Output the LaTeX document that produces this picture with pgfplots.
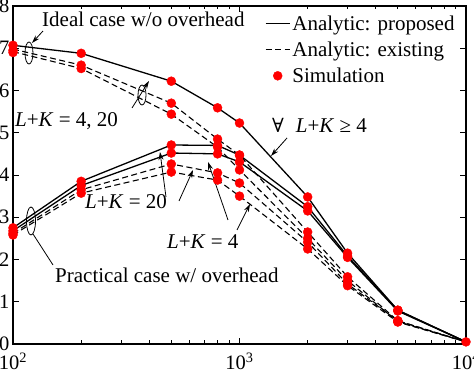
\documentclass[border=0pt]{standalone}
\usepackage{fontspec}
\setmainfont{Liberation Serif}
\newfontfamily\dejavu{DejaVu Serif}
\usepackage{pgfplots}
\pgfplotsset{compat=1.18}
\usetikzlibrary{arrows.meta}
\pgfplotsset{
  linelegend/.style={legend image code/.code={\draw[##1](0pt,0pt)--(24pt,0pt);}},
  simlegend/.style={legend image code/.code={\draw[mark repeat=2,mark phase=2,##1] plot coordinates {(0pt,0pt)(12pt,0pt)(24pt,0pt)};}},
}
\newcommand\annf{\fontsize{21}{24}\selectfont}
\newcommand\legf{\fontsize{21}{24}\selectfont}
\newcommand\tickf{\fontsize{20.5}{23}\selectfont}
\begin{document}
\begin{tikzpicture}
\begin{axis}[
  name=ax,
  scale only axis, width=453pt, height=338pt,
  xmode=log, xmin=100, xmax=10000, ymin=0, ymax=8,
  xtick={100,1000,10000},
  xticklabels={10\textsuperscript{2},10\textsuperscript{3},10\textsuperscript{4}},
  ytick={0,1,2,3,4,5,6,7,8},
  yticklabels={0,1,2,3,4,5,6,7,8},
  tick align=inside,
  major tick length=6pt, minor tick length=3.5pt,
  every tick/.style={black, line width=0.8pt},
  axis line style={line width=1.2pt},
  tick label style={font=\tickf},
  xticklabel style={yshift=-5pt},
  clip=false,
  legend style={at={(rel axis cs:0.556,0.978)}, anchor=north west, draw=none, fill=none,
    font=\legf, nodes={font=\legf}, inner sep=0pt, row sep=6pt},
  legend cell align=left,
  solidline/.style={black, line width=1.3pt, linelegend},
  dashline/.style={black, line width=1.1pt, dash pattern=on 6pt off 3.5pt, linelegend},
  sim/.style={only marks, mark=*, mark size=4.5pt, color=red, mark options={fill=red, draw=red}, simlegend},
]
% Ideal case, proposed
\addplot[solidline] coordinates {(100,7.07)(200,6.88)(500,6.22)(800,5.59)(1000,5.23)(2000,3.48)(3000,2.15)(5000,0.80)(10000,0.05)};
\addlegendentry{Analytic: proposed}
% Ideal case, existing (L+K=4)
\addplot[dashline] coordinates {(100,6.98)(200,6.60)(500,5.70)(800,4.85)(1000,4.47)(2000,2.65)(3000,1.59)(5000,0.55)(10000,0.05)};
\addlegendentry{Analytic: existing}
% Ideal case, existing (L+K=20)
\addplot[dashline, forget plot] coordinates {(100,6.92)(200,6.52)(500,5.44)(800,4.66)(1000,4.12)(2000,2.50)(3000,1.50)(5000,0.53)(10000,0.05)};
% Practical case, proposed
\addplot[solidline, forget plot] coordinates {(100,2.75)(200,3.85)(500,4.71)(800,4.70)(1000,4.47)(2000,3.25)(3000,2.08)(5000,0.80)(10000,0.05)};
\addplot[solidline, forget plot] coordinates {(100,2.68)(200,3.75)(500,4.52)(800,4.50)(1000,4.31)(2000,3.15)(3000,2.05)(5000,0.78)(10000,0.05)};
% Practical case, existing
\addplot[dashline, forget plot] coordinates {(100,2.62)(200,3.65)(500,4.26)(800,4.05)(1000,3.81)(2000,2.41)(3000,1.42)(5000,0.55)(10000,0.05)};
\addplot[dashline, forget plot] coordinates {(100,2.58)(200,3.57)(500,4.07)(800,3.88)(1000,3.50)(2000,2.25)(3000,1.38)(5000,0.52)(10000,0.05)};
% Simulation
\addplot[sim] coordinates {(100,7.07)(200,6.88)(500,6.22)(800,5.59)(1000,5.23)(2000,3.48)(3000,2.15)(5000,0.80)(10000,0.05)};
\addlegendentry{Simulation}
\addplot[sim, forget plot] coordinates {(100,6.95)(200,6.60)(500,5.70)(800,4.85)(1000,4.47)(2000,2.65)(3000,1.59)(5000,0.55)};
\addplot[sim, forget plot] coordinates {(100,6.90)(200,6.52)(500,5.44)(800,4.66)(1000,4.12)(2000,2.50)(3000,1.50)(5000,0.53)};
\addplot[sim, forget plot] coordinates {(100,2.75)(200,3.85)(500,4.71)(800,4.70)(1000,4.47)(2000,3.25)(3000,2.08)(5000,0.80)};
\addplot[sim, forget plot] coordinates {(100,2.68)(200,3.75)(500,4.52)(800,4.50)(1000,4.31)(2000,3.15)(3000,2.05)(5000,0.78)};
\addplot[sim, forget plot] coordinates {(100,2.62)(200,3.65)(500,4.26)(800,4.05)(1000,3.81)(2000,2.41)(3000,1.42)(5000,0.55)};
\addplot[sim, forget plot] coordinates {(100,2.58)(200,3.57)(500,4.07)(800,3.88)(1000,3.50)(2000,2.25)(3000,1.38)(5000,0.52)};

% Annotations
\node[anchor=base west, inner sep=0pt, font=\annf] at (rel axis cs:0.0640,0.9379) {Ideal case w/o overhead};
\draw[line width=0.8pt] (rel axis cs:0.0353,0.8609) ellipse [x radius=4pt, y radius=11pt];
\draw[line width=0.8pt, -{Stealth[length=8pt,width=5pt]}] (rel axis cs:0.0662,0.9260) -- (rel axis cs:0.0419,0.8905);

\node[anchor=base west, inner sep=0pt, font=\annf] at (rel axis cs:0.0044,0.6420) {\textit{L}+\textit{K} = 4, 20};
\draw[line width=0.8pt] (rel axis cs:0.2848,0.7367) ellipse [x radius=4pt, y radius=10pt];
\draw[line width=0.8pt, -{Stealth[length=8pt,width=5pt]}] (rel axis cs:0.2627,0.6982) -- (rel axis cs:0.3002,0.7781);

\node[anchor=base west, inner sep=0pt, font=\annf] at (rel axis cs:0.5717,0.6272) {{\dejavu\fontsize{19.5}{22}\selectfont ∀}\hspace{12pt}\textit{L}+\textit{K} ≥ 4};
\draw[line width=0.8pt, -{Stealth[length=8pt,width=5pt]}] (rel axis cs:0.6049,0.6095) -- (rel axis cs:0.5695,0.5562);

\node[anchor=base west, inner sep=0pt, font=\annf] at (rel axis cs:0.1589,0.3994) {\textit{L}+\textit{K} = 20};
\draw[line width=0.8pt, -{Stealth[length=8pt,width=5pt]}] (rel axis cs:0.3377,0.4349) -- (rel axis cs:0.3245,0.5680);
\draw[line width=0.8pt, -{Stealth[length=8pt,width=5pt]}] (rel axis cs:0.3664,0.4231) -- (rel axis cs:0.3974,0.5148);

\node[anchor=base west, inner sep=0pt, font=\annf] at (rel axis cs:0.3400,0.2840) {\textit{L}+\textit{K} = 4};
\draw[line width=0.8pt, -{Stealth[length=8pt,width=5pt]}] (rel axis cs:0.4746,0.3669) -- (rel axis cs:0.4305,0.5385);
\draw[line width=0.8pt, -{Stealth[length=8pt,width=5pt]}] (rel axis cs:0.4945,0.3373) -- (rel axis cs:0.5232,0.4142);

\node[anchor=base west, inner sep=0pt, font=\annf] at (rel axis cs:0.0927,0.1805) {Practical case w/ overhead};
\draw[line width=0.8pt] (rel axis cs:0.0397,0.3639) ellipse [x radius=4.5pt, y radius=14pt];
\draw[line width=0.8pt] (rel axis cs:0.0883,0.2337) -- (rel axis cs:0.0442,0.3254);
\end{axis}
\pgfresetboundingbox
\path ([xshift=-13pt,yshift=-28pt]ax.south west) rectangle ([xshift=8pt,yshift=6pt]ax.north east);
\end{tikzpicture}
\end{document}
